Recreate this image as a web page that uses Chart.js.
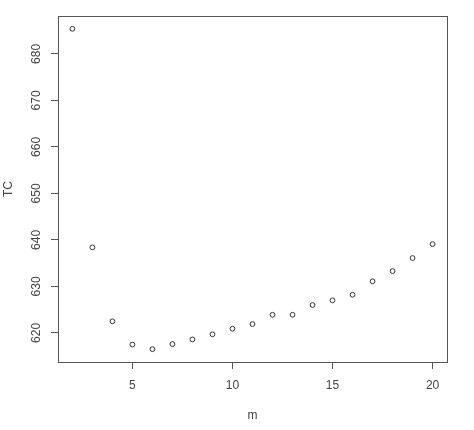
<!DOCTYPE html>
<html>
<head>
<meta charset="utf-8">
<script src="https://cdn.jsdelivr.net/npm/chart.js@4"></script>
<style>
  html, body { margin: 0; padding: 0; background: #fff; }
  #wrap { width: 474px; height: 430px; }
</style>
</head>
<body>
<div id="wrap"><canvas id="c" width="474" height="430"></canvas></div>
<script>
const mValues = [2, 3, 4, 5, 6, 7, 8, 9, 10, 11, 12, 13, 14, 15, 16, 17, 18, 19, 20];
const tcValues = [685.4, 638.4, 622.5, 617.5, 616.5, 617.6, 618.6, 619.7, 620.9, 621.9, 623.9, 623.9, 626.0, 627.0, 628.2, 631.1, 633.3, 636.1, 639.1];
const xTickValues = [5, 10, 15, 20];
const yTickValues = [620, 630, 640, 650, 660, 670, 680];
const xLabel = 'm';
const yLabel = 'TC';

const points = mValues.map((m, i) => ({ x: m, y: tcValues[i] }));

// R-style 4% axis extension
function rRange(vals) {
  const lo = Math.min(...vals), hi = Math.max(...vals);
  const d = (hi - lo) * 0.04;
  return [lo - d, hi + d];
}
const [xMin, xMax] = rRange(mValues);
const [yMin, yMax] = rRange(tcValues);

const FONT = { family: '"Liberation Sans", Arial, sans-serif', size: 12 };
const AXIS_COLOR = '#555';
const TEXT_COLOR = '#444';

const boxPlugin = {
  id: 'box',
  afterDraw(chart) {
    const { ctx, chartArea: a } = chart;
    ctx.save();
    ctx.strokeStyle = AXIS_COLOR;
    ctx.lineWidth = 1;
    ctx.strokeRect(Math.round(a.left) + 0.5, Math.round(a.top) + 0.5,
                   Math.round(a.right - a.left), Math.round(a.bottom - a.top));
    ctx.restore();
  }
};

new Chart(document.getElementById('c'), {
  type: 'scatter',
  data: {
    datasets: [{
      data: points,
      pointStyle: 'circle',
      pointRadius: 2.4,
      pointHoverRadius: 2.4,
      backgroundColor: 'rgba(0,0,0,0)',
      borderColor: '#333',
      borderWidth: 1
    }]
  },
  options: {
    responsive: false,
    animation: false,
    events: [],
    layout: { padding: { top: 16, right: 27, left: 0, bottom: 0 } },
    plugins: { legend: { display: false }, tooltip: { enabled: false } },
    scales: {
      x: {
        type: 'linear',
        min: xMin,
        max: xMax,
        afterBuildTicks(s) { s.ticks = xTickValues.map(v => ({ value: v })); },
        afterFit(s) { s.height = 68; },
        grid: { drawOnChartArea: false, drawTicks: true, tickLength: 7, color: AXIS_COLOR, lineWidth: 1 },
        border: { display: false },
        ticks: { font: FONT, color: TEXT_COLOR, padding: 9, maxRotation: 0, autoSkip: false },
        title: { display: true, text: xLabel, font: FONT, color: TEXT_COLOR, padding: { top: 0, bottom: 7 } }
      },
      y: {
        type: 'linear',
        min: yMin,
        max: yMax,
        afterBuildTicks(s) { s.ticks = yTickValues.map(v => ({ value: v })); },
        afterFit(s) { s.width = 58; },
        grid: { drawOnChartArea: false, drawTicks: true, tickLength: 7, color: AXIS_COLOR, lineWidth: 1 },
        border: { display: false },
        ticks: { font: FONT, color: TEXT_COLOR, padding: 4, minRotation: 90, maxRotation: 90, crossAlign: 'center', autoSkip: false },
        title: { display: true, text: yLabel, font: FONT, color: TEXT_COLOR, padding: { top: 1, bottom: 0 } }
      }
    }
  },
  plugins: [boxPlugin]
});
</script>
</body>
</html>
